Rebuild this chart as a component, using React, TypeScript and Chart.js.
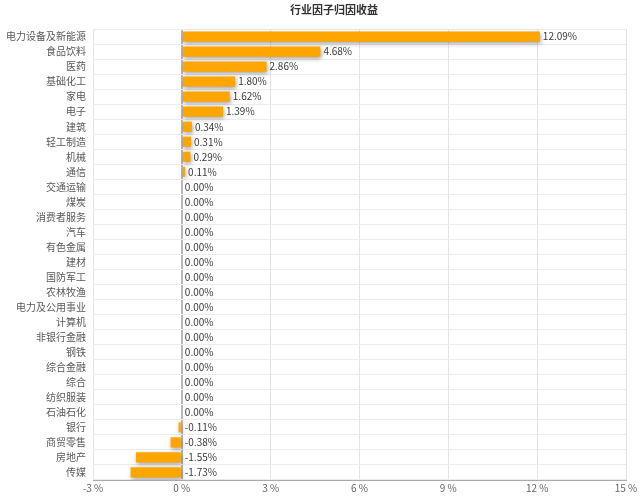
import React, { useEffect, useRef } from "react";
import { Chart, registerables } from "chart.js";

Chart.register(...registerables);

const TITLE = "行业因子归因收益";
const categories = [
  "电力设备及新能源", "食品饮料", "医药", "基础化工", "家电", "电子", "建筑", "轻工制造", "机械", "通信",
  "交通运输", "煤炭", "消费者服务", "汽车", "有色金属", "建材", "国防军工", "农林牧渔", "电力及公用事业", "计算机",
  "非银行金融", "钢铁", "综合金融", "综合", "纺织服装", "石油石化", "银行", "商贸零售", "房地产", "传媒",
];
const values = [
  12.09, 4.68, 2.86, 1.8, 1.62, 1.39, 0.34, 0.31, 0.29, 0.11,
  0, 0, 0, 0, 0, 0, 0, 0, 0, 0,
  0, 0, 0, 0, 0, 0, -0.11, -0.38, -1.55, -1.73,
];
const xTicks = [-3, 0, 3, 6, 9, 12, 15];

const FONT = "'Noto Sans CJK SC', 'Noto Sans', sans-serif";

const shadowPlugin = {
  id: "barShadow",
  beforeDatasetsDraw(chart: any) {
    const ctx = chart.ctx;
    ctx.save();
    ctx.shadowColor = "rgba(0,0,0,0.35)";
    ctx.shadowBlur = 4;
    ctx.shadowOffsetX = 1;
    ctx.shadowOffsetY = 2;
  },
  afterDatasetsDraw(chart: any) {
    chart.ctx.restore();
  },
};

const labelPlugin = {
  id: "valueLabels",
  afterDraw(chart: any) {
    const ctx = chart.ctx;
    const meta = chart.getDatasetMeta(0);
    const zero = chart.scales.x.getPixelForValue(0);
    ctx.save();
    ctx.font = `10px ${FONT}`;
    ctx.fillStyle = "#3a3a3a";
    ctx.textAlign = "left";
    ctx.textBaseline = "middle";
    meta.data.forEach((bar: any, i: number) => {
      const v = values[i];
      const x = Math.max(bar.x, zero) + 3;
      ctx.fillText(v.toFixed(2) + "%", x, bar.y);
    });
    // title
    ctx.font = `bold 11px ${FONT}`;
    ctx.fillStyle = "#333";
    ctx.textAlign = "center";
    ctx.fillText(TITLE, 334, 10);
    ctx.restore();
  },
};

export default function App() {
  const ref = useRef<HTMLCanvasElement>(null);
  useEffect(() => {
    const chart = new Chart(ref.current!, {
      type: "bar",
      data: {
        labels: categories,
        datasets: [
          {
            data: values,
            backgroundColor: "#FFA500",
            borderWidth: 0,
            categoryPercentage: 1,
            barPercentage: 0.68,
          },
        ],
      },
      options: {
        indexAxis: "y",
        animation: false,
        responsive: false,
        layout: { padding: { left: 0, right: 14, top: 29, bottom: 0 } },
        plugins: {
          legend: { display: false },
          title: { display: false },
          tooltip: { enabled: false },
        },
        scales: {
          x: {
            min: -3,
            max: 15,
            afterBuildTicks(scale: any) {
              scale.ticks = xTicks.map((v) => ({ value: v }));
            },
            afterFit(scale: any) {
              scale.height = 18;
            },
            ticks: {
              color: "#666",
              font: { family: FONT, size: 10 },
              padding: 2,
              maxRotation: 0,
              callback: (v: any) => v + " %",
            },
            grid: {
              drawTicks: false,
              color: (c: any) => (c.tick && c.tick.value === 0 ? "#b8b8b8" : "#e3e3e3"),
              lineWidth: (c: any) => (c.tick && c.tick.value === 0 ? 2 : 1),
            },
            border: { display: true, color: "#aaa", width: 1 },
          },
          y: {
            afterFit(scale: any) {
              scale.width = 93;
            },
            ticks: {
              color: "#595959",
              font: { family: FONT, size: 10 },
              padding: 7,
              autoSkip: false,
            },
            grid: {
              drawTicks: false,
              color: "#ececec",
              offset: true,
            },
            border: { display: false },
          },
        },
      },
      plugins: [shadowPlugin, labelPlugin],
    });
    return () => chart.destroy();
  }, []);
  return (
    <div style={{ position: "absolute", left: 0, top: 0, width: 640, height: 498, background: "#fff" }}>
      <canvas ref={ref} width={640} height={498} style={{ width: 640, height: 498 }} />
    </div>
  );
}
